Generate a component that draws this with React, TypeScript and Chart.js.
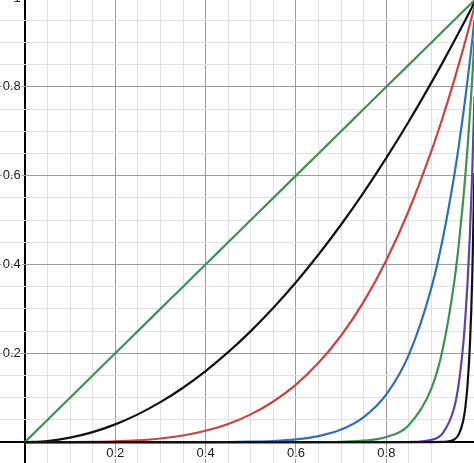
import React, { useEffect, useRef } from "react";
import { Chart, registerables } from "chart.js";

Chart.register(...registerables);

// Sample positions along x (shared by every curve)
const xValues = [0, 0.05, 0.1, 0.15, 0.2, 0.25, 0.3, 0.35, 0.4, 0.45, 0.5, 0.55, 0.6, 0.65, 0.7, 0.75, 0.8, 0.85, 0.9, 0.925, 0.95, 0.96, 0.97, 0.975, 0.98, 0.985, 0.99, 0.995, 1];

// Curve values
const yPow1 = [0, 0.05, 0.1, 0.15, 0.2, 0.25, 0.3, 0.35, 0.4, 0.45, 0.5, 0.55, 0.6, 0.65, 0.7, 0.75, 0.8, 0.85, 0.9, 0.925, 0.95, 0.96, 0.97, 0.975, 0.98, 0.985, 0.99, 0.995, 1];
const yPow2 = [0, 0.0025, 0.01, 0.0225, 0.04, 0.0625, 0.09, 0.1225, 0.16, 0.2025, 0.25, 0.3025, 0.36, 0.4225, 0.49, 0.5625, 0.64, 0.7225, 0.81, 0.8556, 0.9025, 0.9216, 0.9409, 0.9506, 0.9604, 0.9702, 0.9801, 0.99, 1];
const yPow4 = [0, 0, 0.0001, 0.0005, 0.0016, 0.0039, 0.0081, 0.015, 0.0256, 0.041, 0.0625, 0.0915, 0.1296, 0.1785, 0.2401, 0.3164, 0.4096, 0.522, 0.6561, 0.7321, 0.8145, 0.8493, 0.8853, 0.9037, 0.9224, 0.9413, 0.9606, 0.9801, 1];
const yPow10 = [0, 0, 0, 0, 0, 0, 0.00001, 0.00003, 0.0001, 0.0003, 0.001, 0.0025, 0.006, 0.0135, 0.0282, 0.0563, 0.1074, 0.1969, 0.3487, 0.4586, 0.5987, 0.6648, 0.7374, 0.7763, 0.8171, 0.8597, 0.9044, 0.9511, 1];
const yPow20 = [0, 0, 0, 0, 0, 0, 0, 0, 0, 0, 0, 0.00001, 0.00004, 0.0002, 0.0008, 0.0032, 0.0115, 0.0388, 0.1216, 0.2103, 0.3585, 0.442, 0.5438, 0.6027, 0.6676, 0.7391, 0.8179, 0.9046, 1];
const yPow50 = [0, 0, 0, 0, 0, 0, 0, 0, 0, 0, 0, 0, 0, 0, 0, 0, 0.00001, 0.0003, 0.0052, 0.0203, 0.0769, 0.1299, 0.2181, 0.282, 0.3642, 0.4697, 0.605, 0.7783, 1];
const yPow100 = [0, 0, 0, 0, 0, 0, 0, 0, 0, 0, 0, 0, 0, 0, 0, 0, 0, 0, 0.00003, 0.0004, 0.0059, 0.0169, 0.0476, 0.0795, 0.1326, 0.2206, 0.366, 0.6058, 1];

const seriesList = [yPow1, yPow2, yPow4, yPow10, yPow20, yPow50, yPow100];
const seriesColors = ["#3f9150", "#111111", "#c74440", "#2d70b3", "#3f9150", "#6042a6", "#111111"];

// Axis tick labels
const xTickValues = [0.2, 0.4, 0.6, 0.8];
const xTickLabels = ["0.2", "0.4", "0.6", "0.8"];
const yTickValues = [0.2, 0.4, 0.6, 0.8, 1];
const yTickLabels = ["0.2", "0.4", "0.6", "0.8", "1"];

const isMult = (v: number, step: number) => Math.abs(v / step - Math.round(v / step)) < 1e-6;

const gridColor = (ctx: any) => {
  const v = ctx.tick ? ctx.tick.value : NaN;
  if (!isFinite(v)) return "rgba(0,0,0,0)";
  if (Math.abs(v) < 1e-9) return "#000000";
  if (isMult(v, 0.2)) return "#9c9c9c";
  if (isMult(v, 0.05)) return "#e0e0e0";
  return "rgba(0,0,0,0)";
};
const gridWidth = (ctx: any) => {
  const v = ctx.tick ? ctx.tick.value : NaN;
  if (Math.abs(v) < 1e-9) return 2;
  return 1;
};

const labelPlugin = {
  id: "axisLabels",
  afterDatasetsDraw(chart: any) {
    const { ctx, scales } = chart;
    const xs = scales.x;
    const ys = scales.y;
    const x0 = xs.getPixelForValue(0);
    const y0 = ys.getPixelForValue(0);
    ctx.save();
    ctx.font = '13px "Liberation Sans", Arial, sans-serif';
    ctx.fillStyle = "#1a1a1a";
    ctx.strokeStyle = "#ffffff";
    ctx.lineWidth = 3;
    ctx.lineJoin = "round";
    ctx.textAlign = "center";
    ctx.textBaseline = "middle";
    xTickValues.forEach((v, i) => {
      const px = xs.getPixelForValue(v);
      ctx.strokeText(xTickLabels[i], px, y0 + 11);
      ctx.fillText(xTickLabels[i], px, y0 + 11);
    });
    ctx.textAlign = "right";
    yTickValues.forEach((v, i) => {
      const py = ys.getPixelForValue(v);
      ctx.strokeText(yTickLabels[i], x0 - 4, py);
      ctx.fillText(yTickLabels[i], x0 - 4, py);
    });
    ctx.restore();
  },
};

export default function App() {
  const canvasRef = useRef<HTMLCanvasElement | null>(null);

  useEffect(() => {
    document.body.style.margin = "0";
    const canvas = canvasRef.current;
    if (!canvas) return;
    const datasets = seriesList.map((ys, i) => ({
      data: xValues.map((x, j) => ({ x, y: ys[j] })),
      borderColor: seriesColors[i],
      backgroundColor: seriesColors[i],
      borderWidth: 2.2,
      pointRadius: 0,
      showLine: true,
      fill: false,
      cubicInterpolationMode: "monotone" as const,
      order: seriesList.length - i,
    }));
    const chart = new Chart(canvas, {
      type: "scatter",
      data: { datasets },
      options: {
        responsive: false,
        maintainAspectRatio: false,
        animation: false,
        layout: { padding: 0 },
        plugins: { legend: { display: false }, tooltip: { enabled: false } },
        scales: {
          x: {
            type: "linear",
            min: -0.055,
            max: 0.994,
            ticks: { display: false, stepSize: 0.05 },
            grid: { color: gridColor, lineWidth: gridWidth, drawTicks: false },
            border: { display: false },
          },
          y: {
            type: "linear",
            min: -0.047,
            max: 0.9955,
            ticks: { display: false, stepSize: 0.05 },
            grid: { color: gridColor, lineWidth: gridWidth, drawTicks: false },
            border: { display: false },
          },
        },
      },
      plugins: [labelPlugin],
    });
    return () => chart.destroy();
  }, []);

  return (
    <div style={{ width: 474, height: 463, background: "#ffffff" }}>
      <canvas ref={canvasRef} width={474} height={463} />
    </div>
  );
}
